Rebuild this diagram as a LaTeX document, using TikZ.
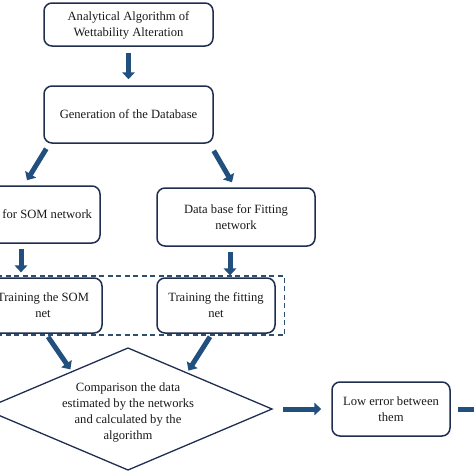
\documentclass[tikz,border=0pt]{standalone}
\usepackage{fontspec}
\setmainfont{Liberation Serif}
\usetikzlibrary{arrows.meta,calc}
\definecolor{boxline}{HTML}{1F2D4E}
\definecolor{arrowblue}{HTML}{22507E}
\definecolor{dashline}{HTML}{2F4F6F}
\tikzset{
  txt/.style={align=center, inner sep=0pt, font=\fontsize{12.6}{16}\selectfont, text=black!90},
  procbox/.style={txt, draw=boxline, line width=1.5pt, rounded corners=8pt, text depth=-1.5pt},
  bigarrow/.style={draw=arrowblue, line width=5pt,
    -{Triangle[width=12.5pt,length=7pt]}},
  groupbox/.style={draw=dashline, line width=1.2pt, dash pattern=on 5pt off 3.5pt,
    inner sep=0pt},
  decisionline/.style={draw=boxline, line width=1.3pt}
}
\begin{document}
\begin{tikzpicture}[x=1pt,y=-1pt]
\useasboundingbox (0,0) rectangle (474,474);
\clip (0,0) rectangle (474,474);
\node[procbox, minimum width=169pt, minimum height=43pt] (a1) at (128.5,24.5)
  {Analytical Algorithm of\\Wettability Alteration};
\node[procbox, minimum width=169pt, minimum height=57pt] (a2) at (128.5,114.5)
  {Generation of the Database};
\node[procbox, minimum width=158pt, minimum height=57pt] (a3) at (21,214.5)
  {Data base for SOM network};
\node[procbox, minimum width=158pt, minimum height=58pt] (a4) at (236,217)
  {Data base for Fitting\\network};
\node[groupbox, minimum width=313pt, minimum height=59pt] (grp) at (128,305.5) {};
\node[procbox, minimum width=118pt, minimum height=55pt] (a5) at (43,305.5)
  {Training the SOM\\net};
\node[procbox, minimum width=118pt, minimum height=55pt] (a6) at (216,305.5)
  {Training the fitting\\net};
\coordinate (dtop) at (128,348);
\coordinate (dright) at (272,409);
\coordinate (dbot) at (128,470);
\coordinate (dleft) at (-16,409);
\draw[decisionline] (dtop) -- (dright) -- (dbot) -- (dleft) -- cycle;
\node[txt] (d) at (128,412.5)
  {Comparison the data\\estimated by the networks\\and calculated by the\\algorithm};
\node[procbox, minimum width=118pt, minimum height=54pt] (a7) at (391,409)
  {Low error between\\them};
\coordinate (out) at (490,409);
\draw[bigarrow] ($(a1.south)+(0,6)$) -- ($(a2.north)+(0,-6)$);
\draw[bigarrow] ($(a2.south west)+(3,5)$) -- ($(a3.north)+(6,-5)$);
\draw[bigarrow] ($(a2.south east)+(0,7)$) -- ($(a4.north)+(-4,-5)$);
\draw[bigarrow] ($(a3.south)+(0,5)$) -- ($(a3.south |- grp.north)+(0,-3)$);
\draw[bigarrow] ($(a4.south)+(-6,5)$) -- ($(a4.south |- grp.north)+(-6,0)$);
\draw[bigarrow] ($(a5.south)+(5,3)$) -- ($($(dleft)!0.6!(dtop)$)+(0,-3)$);
\draw[bigarrow] ($(a6.south)+(-6,3)$) -- ($($(dtop)!0.42!(dright)$)+(0,-3)$);
\draw[bigarrow] ($(dright)+(11,0)$) -- ($(a7.west)+(-10,0)$);
\draw[draw=arrowblue, line width=5pt] ($(a7.east)+(7,0)$) -- (out);
\end{tikzpicture}
\end{document}
